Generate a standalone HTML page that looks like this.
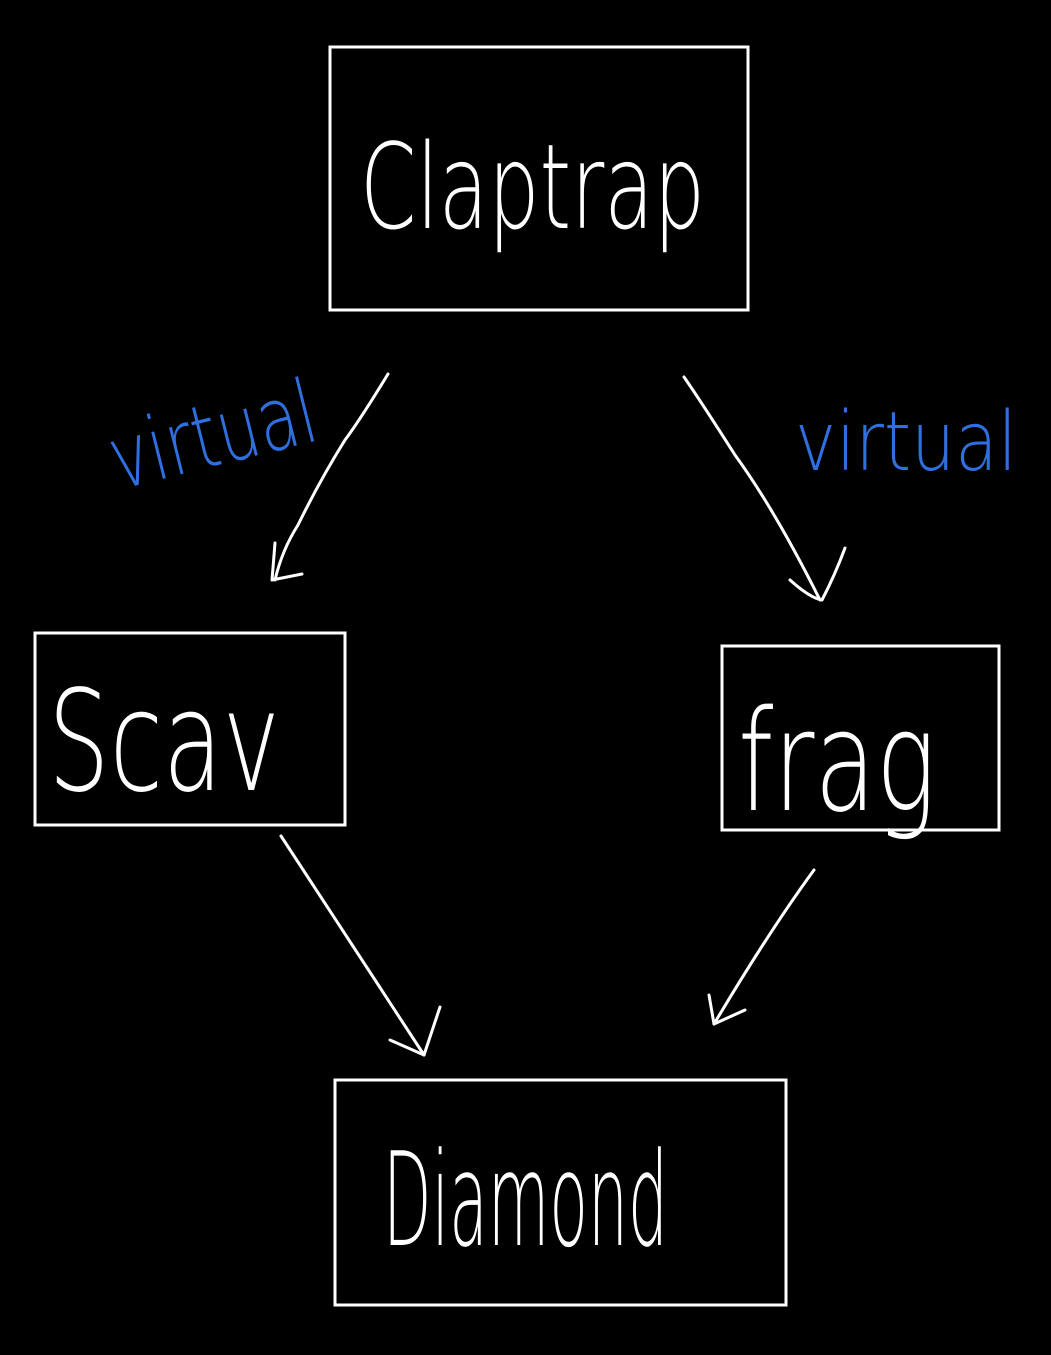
<!DOCTYPE html>
<html><head><meta charset="utf-8"><style>
html,body{margin:0;padding:0;background:#000;}
svg{display:block}
text{font-family:"DejaVu Sans","Liberation Sans",sans-serif;font-weight:200;}
</style></head><body>
<svg width="1051" height="1355" viewBox="0 0 1051 1355" xmlns="http://www.w3.org/2000/svg">
<rect width="1051" height="1355" fill="#000"/>
<g fill="none" stroke="#fff" stroke-width="3">
<rect x="330" y="47" width="418" height="263"/>
<rect x="35" y="633" width="310" height="192"/>
<rect x="722" y="646" width="277" height="184"/>
<rect x="335" y="1080" width="451" height="225"/>
</g>
<g fill="none" stroke="#fff" stroke-width="3" stroke-linecap="round" stroke-linejoin="round">
<path d="M388 374 Q360 420 345 440 Q320 480 298 525 Q282 550 275 580"/>
<path d="M275 543 L272 580 L302 574"/>
<path d="M684 377 Q700 400 735 455 Q775 510 820 600"/>
<path d="M790 580 Q810 598 822 600 Q835 575 845 548"/>
<path d="M281 836 L424 1055"/>
<path d="M390 1040 L424 1055 L440 1007"/>
<path d="M814 870 Q770 930 714 1024"/>
<path d="M709 995 L714 1024 L745 1010"/>
</g>
<g fill="#fff">
<text x="360" y="228" font-size="118" textLength="345" lengthAdjust="spacingAndGlyphs">Claptrap</text>
<text x="48" y="790" font-size="140" textLength="232" lengthAdjust="spacingAndGlyphs">Scav</text>
<text x="738" y="810" font-size="140" textLength="198" lengthAdjust="spacingAndGlyphs">frag</text>
<text x="383" y="1245" font-size="130" textLength="285" lengthAdjust="spacingAndGlyphs">Diamond</text>
</g>
<g fill="#2f6fe0">
<text x="118" y="490" font-size="88" transform="rotate(-14 118 490)" textLength="210" lengthAdjust="spacingAndGlyphs">virtual</text>
<text x="795" y="470" font-size="82" textLength="222" lengthAdjust="spacingAndGlyphs">virtual</text>
</g>
</svg>
</body></html>
